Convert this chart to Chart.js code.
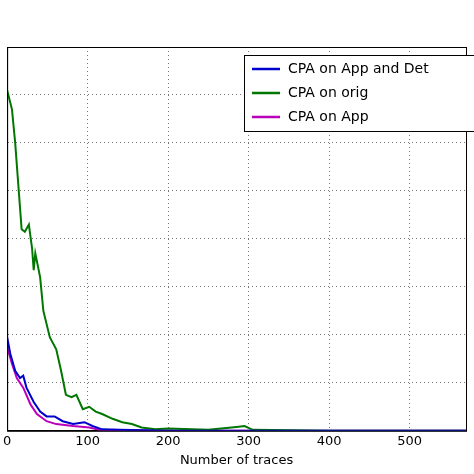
<!DOCTYPE html>
<html>
<head>
<meta charset="utf-8">
<script src="https://cdn.jsdelivr.net/npm/chart.js@4"></script>
<style>
  html, body { margin: 0; padding: 0; background: #fff; }
  #chart { display: block; }
</style>
</head>
<body>
<canvas id="chart" width="474" height="474"></canvas>
<script>
// values (x = number of traces)
const detX = [0, 4, 10, 16, 20, 24, 33, 41, 49, 59, 69, 82, 96, 106, 118, 140, 200, 300, 570];
const detY = [1.95, 1.6, 1.25, 1.1, 1.15, 0.9, 0.6, 0.4, 0.3, 0.3, 0.2, 0.14, 0.18, 0.1, 0.03, 0.02, 0, 0, 0];

const origX = [0, 6, 10, 14, 18, 22, 27, 31, 33, 35, 41, 45, 53, 61, 67, 73, 80, 86, 94, 102, 110, 118, 131, 143, 155, 167, 184, 200, 250, 285, 295, 305, 400, 570];
const origY = [7.1, 6.7, 6.0, 5.1, 4.2, 4.15, 4.3, 3.8, 3.35, 3.7, 3.2, 2.5, 1.95, 1.7, 1.25, 0.75, 0.7, 0.75, 0.45, 0.5, 0.4, 0.35, 0.25, 0.18, 0.14, 0.07, 0.03, 0.05, 0.02, 0.08, 0.1, 0.02, 0, 0];

const appX = [0, 6, 12, 20, 29, 37, 49, 61, 82, 102, 114, 200, 300, 570];
const appY = [1.75, 1.4, 1.1, 0.9, 0.55, 0.35, 0.2, 0.14, 0.1, 0.07, 0.02, 0, 0, 0];

const seriesNames = ["CPA on App and Det", "CPA on orig", "CPA on App"];
const seriesColors = ["#0000cc", "#007700", "#bb00bb"];
const xTicks = [0, 100, 200, 300, 400, 500];

const pairs = (xs, ys) => xs.map((x, i) => ({ x: x, y: ys[i] }));

// frame around the plot + legend box inside the plot area, top right
const legendBox = {
  id: "legendBox",
  afterDraw(chart) {
    const ctx = chart.ctx;
    const a = chart.chartArea;
    ctx.save();
    ctx.strokeStyle = "#000";
    ctx.lineWidth = 1;
    ctx.strokeRect(a.left + 0.5, a.top + 0.5, a.right - a.left, a.bottom - a.top);

    const x0 = 244, y0 = 55, w = 232, h = 76;
    ctx.fillStyle = "#fff";
    ctx.fillRect(x0, y0, w, h);
    ctx.strokeRect(x0 + 0.5, y0 + 0.5, w, h);
    ctx.font = "14px 'DejaVu Sans'";
    ctx.textBaseline = "middle";
    chart.data.datasets.forEach((ds, i) => {
      const y = y0 + 14 + i * 24;
      ctx.strokeStyle = ds.borderColor;
      ctx.lineWidth = 2.5;
      ctx.beginPath();
      ctx.moveTo(x0 + 8, y);
      ctx.lineTo(x0 + 36, y);
      ctx.stroke();
      ctx.fillStyle = "#000";
      ctx.fillText(ds.label, x0 + 44, y);
    });
    ctx.restore();
  },
};

new Chart(document.getElementById("chart"), {
  type: "line",
  data: {
    datasets: [
      { label: seriesNames[0], data: pairs(detX, detY) },
      { label: seriesNames[1], data: pairs(origX, origY) },
      { label: seriesNames[2], data: pairs(appX, appY) },
    ].map((ds, i) => ({
      ...ds,
      borderColor: seriesColors[i],
      borderWidth: 2,
      pointRadius: 0,
      tension: 0,
    })),
  },
  options: {
    responsive: false,
    animation: false,
    layout: { padding: { left: 0, right: 8, top: 47, bottom: 6 } },
    plugins: { legend: { display: false }, tooltip: { enabled: false } },
    scales: {
      x: {
        type: "linear",
        min: 0,
        max: 570,
        afterBuildTicks: (axis) => { axis.ticks = xTicks.map((v) => ({ value: v })); },
        ticks: { color: "#000", font: { family: "DejaVu Sans", size: 13 }, padding: 3 },
        grid: { color: "#777", drawTicks: false },
        border: { color: "#000", width: 1, dash: [1, 3] },
        title: { display: true, text: "Number of traces", color: "#000", font: { family: "DejaVu Sans", size: 13 }, padding: 0 },
      },
      y: {
        min: 0,
        max: 8,
        afterFit: (s) => { s.width = 0; },
        ticks: { display: false, stepSize: 1 },
        grid: { color: "#777", drawTicks: false },
        border: { color: "#000", width: 1, dash: [1, 3] },
      },
    },
  },
  plugins: [legendBox],
});
</script>
</body>
</html>
